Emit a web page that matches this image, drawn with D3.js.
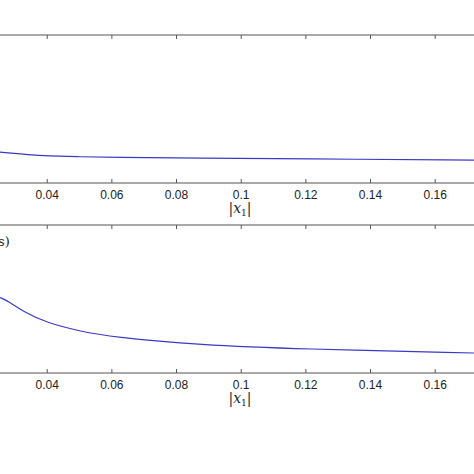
<!DOCTYPE html>
<html>
<head>
<meta charset="UTF-8">
<script src="https://d3js.org/d3.v7.min.js"></script>
<style>body{margin:0;background:#fff}</style>
</head>
<body>
<script>
var xTicks = [0.04, 0.06, 0.08, 0.1, 0.12, 0.14, 0.16];
var topX = [0.0254, 0.0347, 0.04, 0.0502, 0.06, 0.0874, 0.118, 0.172];
var topY = [0.209, 0.19, 0.183, 0.177, 0.173, 0.169, 0.163, 0.155];
var botX = [0.0254, 0.028, 0.033, 0.04, 0.05, 0.06, 0.0874, 0.118, 0.172];
var botY = [0.51, 0.485, 0.41, 0.338, 0.283, 0.243, 0.189, 0.162, 0.135];

var svg = d3.select("body").append("svg").attr("width", 474).attr("height", 474);
var x = d3.scaleLinear().domain([0.0254, 0.172]).range([0, 474]);

function panel(top, bottom, xs, ys) {
    var y = d3.scaleLinear().domain([0, 1]).range([bottom, top]);
    var g = svg.append("g");
    [top, bottom].forEach(function(p) {
        g.append("line").attr("x1", 0).attr("x2", 474).attr("y1", p).attr("y2", p)
            .attr("stroke", "#555").attr("stroke-width", 1);
    });
    g.selectAll(".tt").data(xTicks).enter().append("line")
        .attr("x1", function(d){return x(d);}).attr("x2", function(d){return x(d);})
        .attr("y1", top).attr("y2", top + 4).attr("stroke", "#555");
    g.selectAll(".bt").data(xTicks).enter().append("line")
        .attr("x1", function(d){return x(d);}).attr("x2", function(d){return x(d);})
        .attr("y1", bottom).attr("y2", bottom - 4).attr("stroke", "#555");
    g.selectAll(".tl").data(xTicks).enter().append("text")
        .attr("x", function(d){return x(d);}).attr("y", bottom + 16)
        .attr("text-anchor", "middle").attr("font-family", "Liberation Sans, Arial")
        .attr("font-size", 12).attr("fill", "#222")
        .text(function(d){return d === 0.1 ? "0.1" : d.toFixed(2);});
    var line = d3.line().x(function(d){return x(d[0]);}).y(function(d){return y(d[1]);}).curve(d3.curveBasis);
    g.append("path").datum(xs.map(function(v, i){return [v, ys[i]];}))
        .attr("d", line).attr("fill", "none").attr("stroke", "#3a3ac8").attr("stroke-width", 1.2);
    var lab = g.append("text").attr("x", 240).attr("y", bottom + 30).attr("text-anchor", "middle")
        .attr("font-family", "DejaVu Serif, serif").attr("font-size", 14).attr("fill", "#222");
    lab.append("tspan").text("|");
    lab.append("tspan").attr("font-style", "italic").text("x");
    lab.append("tspan").attr("font-size", 9).attr("dy", 3).text("1");
    lab.append("tspan").attr("dy", -3).text("|");
}

panel(35, 183, topX, topY);
panel(225, 373, botX, botY);

svg.append("text").attr("x", -2).attr("y", 246).attr("font-family", "DejaVu Serif, serif")
    .attr("font-size", 13).attr("fill", "#222").text("s)");
</script>
</body>
</html>
